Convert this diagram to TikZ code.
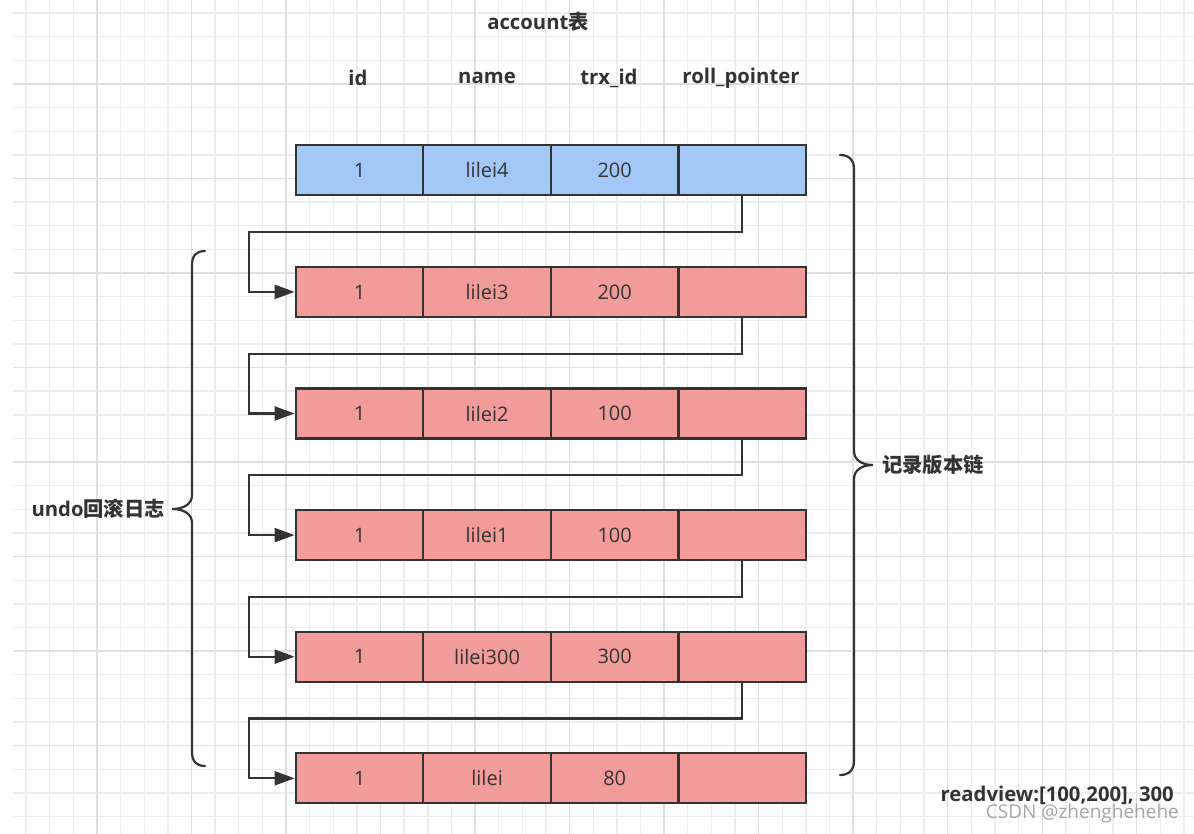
\documentclass[tikz,border=0pt]{standalone}
\usepackage{fontspec}
\setmainfont{Open Sans}
\newfontfamily\cjk{Noto Sans CJK SC}
\usetikzlibrary{arrows.meta,calc,positioning}

\definecolor{headblue}{RGB}{163,200,248}
\definecolor{undored}{RGB}{241,156,153}
\definecolor{inkgray}{HTML}{333333}
\definecolor{gridminor}{HTML}{EDEDED}
\definecolor{gridmajor}{HTML}{DFDFDF}

\tikzset{
  cell/.style={draw=inkgray, line width=2.2pt, minimum width=127.6pt, minimum height=50pt,
    inner sep=0pt, text=inkgray, font=\fontsize{20}{22}\selectfont},
  newrow/.style={cell, fill=headblue},
  oldrow/.style={cell, fill=undored},
  headtext/.style={inner sep=0pt, text=inkgray, font=\bfseries\fontsize{20.3}{22}\selectfont},
  link/.style={draw=inkgray, line width=2.2pt, -{Triangle[length=20pt,width=14pt]}},
  brace/.style={draw=inkgray, line width=2.2pt, line cap=round},
}

\begin{document}
\begin{tikzpicture}[x=1pt, y=-1pt]
  %%%%% background grid %%%%%
  \useasboundingbox (0,0) rectangle (1194,834);
  \fill[white] (0,0) rectangle (1194,834);
  \foreach \k in {1,...,50} {
    \pgfmathsetmacro\gx{2.47+23.63*\k}
    \draw[gridminor, line width=1.4pt] (\gx,0) -- (\gx,834);
  }
  \foreach \k in {0,...,34} {
    \pgfmathsetmacro\gy{13.1+23.63*\k}
    \draw[gridminor, line width=1.4pt] (13,\gy) -- (1194,\gy);
  }
  \foreach \k in {4,8,...,48} {
    \pgfmathsetmacro\gx{2.47+23.63*\k}
    \draw[gridmajor, line width=1.4pt] (\gx,0) -- (\gx,834);
  }
  \foreach \k in {3,7,...,31} {
    \pgfmathsetmacro\gy{13.1+23.63*\k}
    \draw[gridmajor, line width=1.4pt] (13,\gy) -- (1194,\gy);
  }

  %%%%% titles %%%%%
  \node[headtext] (title) at (538,22) {account{\cjk 表}};
  \node[headtext] (hid) at (358,78) {id};
  \node[headtext] (hname) at (487,78) {name};
  \node[headtext] (htrx) at (609,78) {trx\_id};
  \node[headtext] (hptr) at (741,78) {roll\_pointer};

  %%%%% current record %%%%%
  \node[newrow] (r0c1) at (359.5,170.3) {1};
  \node[newrow] (r0c2) at (487.1,170.3) {lilei4};
  \node[newrow] (r0c3) at (614.7,170.3) {200};
  \node[newrow] (r0c4) at (742.3,170.3) {};

  %%%%% undo records %%%%%
  \node[oldrow] (r1c1) at (359.5,291.9) {1};
  \node[oldrow] (r1c2) at (487.1,291.9) {lilei3};
  \node[oldrow] (r1c3) at (614.7,291.9) {200};
  \node[oldrow] (r1c4) at (742.3,291.9) {};

  \node[oldrow] (r2c1) at (359.5,413.5) {1};
  \node[oldrow] (r2c2) at (487.1,413.5) {lilei2};
  \node[oldrow] (r2c3) at (614.7,413.5) {100};
  \node[oldrow] (r2c4) at (742.3,413.5) {};

  \node[oldrow] (r3c1) at (359.5,535.1) {1};
  \node[oldrow] (r3c2) at (487.1,535.1) {lilei1};
  \node[oldrow] (r3c3) at (614.7,535.1) {100};
  \node[oldrow] (r3c4) at (742.3,535.1) {};

  \node[oldrow] (r4c1) at (359.5,656.7) {1};
  \node[oldrow] (r4c2) at (487.1,656.7) {lilei300};
  \node[oldrow] (r4c3) at (614.7,656.7) {300};
  \node[oldrow] (r4c4) at (742.3,656.7) {};

  \node[oldrow] (r5c1) at (359.5,778.3) {1};
  \node[oldrow] (r5c2) at (487.1,778.3) {lilei};
  \node[oldrow] (r5c3) at (614.7,778.3) {80};
  \node[oldrow] (r5c4) at (742.3,778.3) {};

  %%%%% roll pointers %%%%%
  \draw[link] (r0c4.south) -- ++(0,35.6) -| ($(r1c1.west)+(-45.7,0)$) -- (r1c1.west);
  \draw[link] (r1c4.south) -- ++(0,35.6) -| ($(r2c1.west)+(-45.7,0)$) -- (r2c1.west);
  \draw[link] (r2c4.south) -- ++(0,35.6) -| ($(r3c1.west)+(-45.7,0)$) -- (r3c1.west);
  \draw[link] (r3c4.south) -- ++(0,35.6) -| ($(r4c1.west)+(-45.7,0)$) -- (r4c1.west);
  \draw[link] (r4c4.south) -- ++(0,35.6) -| ($(r5c1.west)+(-45.7,0)$) -- (r5c1.west);

  %%%%% braces %%%%%
  \draw[brace] (840,155) .. controls (849,155) and (854,160) .. (854,169) -- (854,451)
    .. controls (854,460) and (862,465) .. (873,465)
    .. controls (862,465) and (854,470) .. (854,479) -- (854,761)
    .. controls (854,770) and (849,775) .. (840,775);
  \coordinate (chaintip) at (873,465);
  \node[headtext, right=9pt of chaintip] (chain) {\cjk 记录版本链};

  \draw[brace] (205,251) .. controls (196,251) and (192,256) .. (192,265) -- (192,495)
    .. controls (192,504) and (184,509) .. (172,509)
    .. controls (184,509) and (192,514) .. (192,523) -- (192,752)
    .. controls (192,761) and (196,766) .. (205,766);
  \coordinate (undotip) at (172,509);
  \node[headtext, left=7pt of undotip] (undo) {undo{\cjk 回滚日志}};

  %%%%% notes %%%%%
  \node[headtext, anchor=east] (readview) at (1174,795) {readview:[100,200], 300};
  \node[inner sep=0pt, anchor=east, text=black!35, font=\fontsize{19}{21}\selectfont] (mark) at (1179,814) {CSDN @zhenghehehe};
\end{tikzpicture}
\end{document}
